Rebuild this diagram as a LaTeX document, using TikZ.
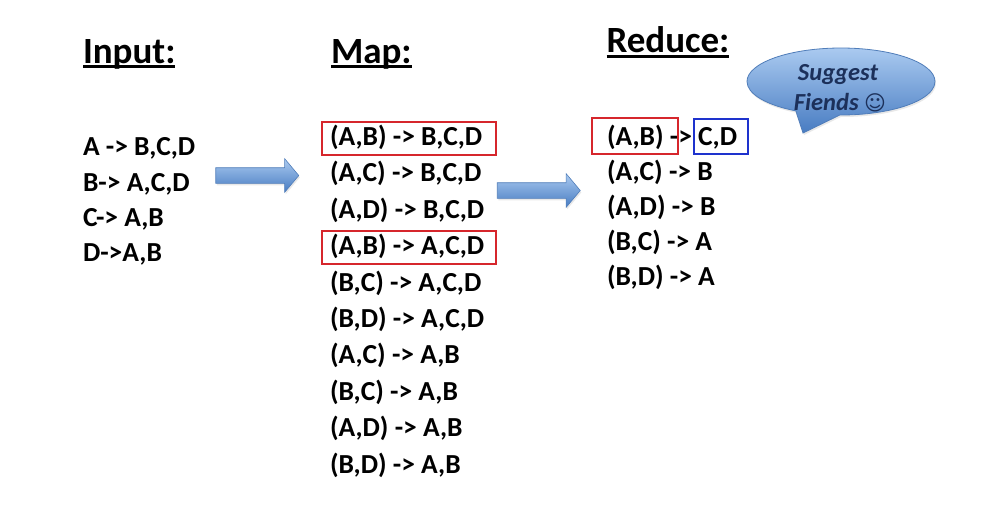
\documentclass[tikz,border=0pt]{standalone}
\usepackage{fontspec}
\setmainfont{Carlito}
\newfontfamily\symfont{DejaVu Sans}
\usetikzlibrary{shapes.arrows,shapes.callouts,shadows}
\definecolor{boxred}{RGB}{214,38,44}
\definecolor{boxblue}{RGB}{30,50,205}
\definecolor{lightblue}{RGB}{170,202,240}
\definecolor{darkblue}{RGB}{72,124,194}
\definecolor{edgeblue}{RGB}{80,125,185}
\definecolor{navytext}{RGB}{28,48,90}
\begin{document}
\begin{tikzpicture}[x=1pt,y=-1pt,
  every node/.style={inner sep=0pt, outer sep=0pt},
  heading/.style={anchor=base west, font=\fontsize{37}{40}\selectfont\bfseries},
  item/.style={anchor=base west, font=\fontsize{27.5}{30}\selectfont\bfseries},
  uline/.style={line width=2.8pt},
  redframe/.style={draw=boxred, line width=2pt},
  blueframe/.style={draw=boxblue, line width=2pt},
  softshadow/.style={drop shadow={opacity=0.18, shadow xshift=1pt, shadow yshift=-2pt}},
  blockarrow/.style={single arrow, draw=edgeblue, line width=0.6pt,
    top color=lightblue, bottom color=darkblue, text height=15pt,
    single arrow head extend=9pt, single arrow tip angle=100,
    minimum height=83pt, softshadow},
  bubble/.style={ellipse callout, draw=edgeblue, line width=0.8pt,
    top color=lightblue, bottom color=darkblue, callout pointer arc=28,
    minimum width=188pt, minimum height=67pt, softshadow},
  bubbletext/.style={anchor=base, text=navytext,
    font=\fontsize{24.5}{28}\selectfont\bfseries\itshape}
]
\useasboundingbox (0,0) rectangle (986,512);

% headings
\node[heading] (hin) at (83,63) {Input:};
\node[heading] (hmap) at (331,63) {Map:};
\node[heading] (hred) at (606.5,52.5) {Reduce:};
\draw[uline] ([yshift=-3.8pt]hin.base west) -- ([yshift=-3.8pt]hin.base east);
\draw[uline] ([yshift=-3.8pt]hmap.base west) -- ([yshift=-3.8pt]hmap.base east);
\draw[uline] ([yshift=-3.8pt]hred.base west) -- ([yshift=-3.8pt]hred.base east);

% input
\node[item] (i1) at (83,155) {A -> B,C,D};
\node[item] (i2) at (83,191) {B-> A,C,D};
\node[item] (i3) at (83,226) {C-> A,B};
\node[item] (i4) at (83,261) {D->A,B};

% map
\node[item] (m1) at (330,145.5) {(A,B) -> B,C,D};
\node[item] (m2) at (330,181.9) {(A,C) -> B,C,D};
\node[item] (m3) at (330,218.3) {(A,D) -> B,C,D};
\node[item] (m4) at (330,254.7) {(A,B) -> A,C,D};
\node[item] (m5) at (330,291.1) {(B,C) -> A,C,D};
\node[item] (m6) at (330,327.5) {(B,D) -> A,C,D};
\node[item] (m7) at (330,363.9) {(A,C) -> A,B};
\node[item] (m8) at (330,400.3) {(B,C) -> A,B};
\node[item] (m9) at (330,436.7) {(A,D) -> A,B};
\node[item] (m10) at (330,473.1) {(B,D) -> A,B};
\node[redframe, minimum width=174pt, minimum height=33pt] (mb1) at (409,138.5) {};
\node[redframe, minimum width=174pt, minimum height=33pt] (mb2) at (409,247.5) {};

% reduce
\node[item] (r1) at (607,145) {(A,B) -> C,D};
\node[item] (r2) at (607,180) {(A,C) -> B};
\node[item] (r3) at (607,215) {(A,D) -> B};
\node[item] (r4) at (607,250) {(B,C) -> A};
\node[item] (r5) at (607,285) {(B,D) -> A};
\node[redframe, minimum width=86.5pt, minimum height=36pt] (rb1) at (635,135.5) {};
\node[blueframe, minimum width=54pt, minimum height=35pt] (rb2) at (721,136) {};

% block arrows
\node[blockarrow] (a1) at (254,175.5) {};
\node[blockarrow] (a2) at (535.5,190.5) {};

% callout
\node[bubble, callout absolute pointer={(803,133)}] (call) at (841,81.5) {};
\node[bubbletext] (s1) at (838,80.5) {Suggest};
\node[bubbletext] (s2) at (840,110) {Fiends {\symfont\fontsize{21}{24}\selectfont\itshape ☺}};
\end{tikzpicture}
\end{document}
